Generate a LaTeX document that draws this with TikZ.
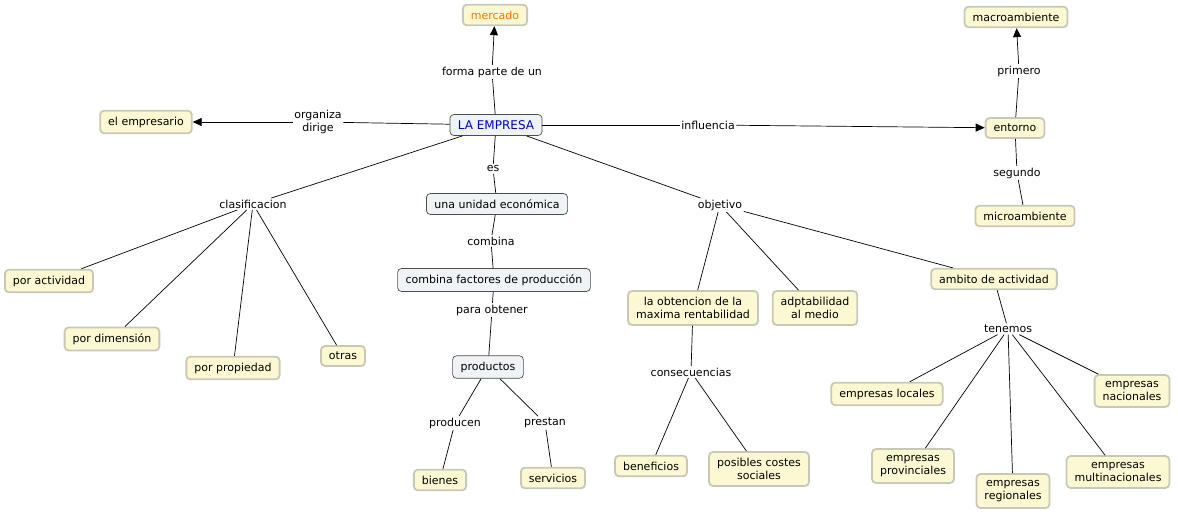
\documentclass[tikz,border=0pt]{standalone}
\usepackage{fontspec}
\setmainfont{DejaVu Sans}
\usetikzlibrary{arrows.meta}
\definecolor{cy}{HTML}{FCF9D2}
\definecolor{cb}{HTML}{EEF3F6}
\definecolor{cd}{HTML}{C8C8B8}
\begin{document}
\begin{tikzpicture}[x=1pt,y=-1pt,
  every node/.style={font=\fontsize{11}{13.5}\selectfont, align=center},
  c/.style={draw=cd, line width=1.8pt, fill=cy, rounded corners=4pt, inner xsep=8pt, inner ysep=6pt},
  b/.style={c, fill=cb, draw=black!70, line width=0.7pt},
  l/.style={fill=white, inner sep=1.5pt},
  e/.style={draw, line width=0.7pt},
  a/.style={e, -{Triangle[length=9pt,width=8pt]}}]
\useasboundingbox (0,0) rectangle (1178,518);
% concepts
\node[c, text=orange!90!red] (mer) at (495,15) {mercado};
\node[c] (mac) at (1016,17) {macroambiente};
\node[c] (emp) at (146,122) {el empresario};
\node[b, text=blue!80!black, font=\fontsize{12}{14}\selectfont] (LE) at (496,125) {LA EMPRESA};
\node[c] (ent) at (1015,128) {entorno};
\node[c] (mic) at (1025,216) {microambiente};
\node[b] (uni) at (497,204) {una unidad económica};
\node[b] (cfp) at (494,280) {combina factores de producción};
\node[b] (pro) at (488,367) {productos};
\node[c] (pac) at (49,281) {por actividad};
\node[c] (pdi) at (112,339) {por dimensión};
\node[c] (ppr) at (233,368) {por propiedad};
\node[c] (otr) at (343,356) {otras};
\node[c] (obt) at (693,308) {la obtencion de la\\maxima rentabilidad};
\node[c] (adp) at (815,308) {adptabilidad\\al medio};
\node[c] (amb) at (994,279) {ambito de actividad};
\node[c] (ben) at (651,466) {beneficios};
\node[c] (pcs) at (759,469) {posibles costes\\sociales};
\node[c] (bie) at (440,480) {bienes};
\node[c] (ser) at (553,478) {servicios};
\node[c] (elo) at (887,394) {empresas locales};
\node[c] (ena) at (1132,391) {empresas\\nacionales};
\node[c] (epr) at (913,466) {empresas\\provinciales};
\node[c] (ere) at (1013,491) {empresas\\regionales};
\node[c] (emu) at (1118,472) {empresas\\multinacionales};
% labels
\node[l] (lfp) at (492,72) {forma parte de un};
\node[l] (lor) at (318,122) {organiza\\dirige};
\node[l] (lin) at (708,125) {influencia};
\node[l] (lpr) at (1019,71) {primero};
\node[l] (lse) at (1017,173) {segundo};
\node[l] (lcl) at (253,204) {clasificacion};
\node[l] (les) at (493,169) {es};
\node[l] (lob) at (720,205) {objetivo};
\node[l] (lco) at (491,241) {combina};
\node[l] (lpo) at (492,310) {para obtener};
\node[l] (lcs) at (691,372) {consecuencias};
\node[l] (lte) at (1008,329) {tenemos};
\node[l] (lpd) at (455,423) {producen};
\node[l] (lps) at (545,423) {prestan};
% connectors
\draw[e] (LE) -- (lfp); \draw[a] (lfp) -- (mer);
\draw[e] (LE) -- (lor); \draw[a] (lor) -- (emp);
\draw[e] (LE) -- (lin); \draw[a] (lin) -- (ent);
\draw[e] (ent) -- (lpr); \draw[a] (lpr) -- (mac);
\draw[e] (ent) -- (lse); \draw[e] (lse) -- (mic);
\draw[e] (LE) -- (lcl);
\foreach \t in {pac,pdi,ppr,otr} \draw[e] (lcl) -- (\t);
\draw[e] (LE) -- (les); \draw[e] (les) -- (uni);
\draw[e] (uni) -- (lco); \draw[e] (lco) -- (cfp);
\draw[e] (cfp) -- (lpo); \draw[e] (lpo) -- (pro);
\draw[e] (pro) -- (lpd); \draw[e] (lpd) -- (bie);
\draw[e] (pro) -- (lps); \draw[e] (lps) -- (ser);
\draw[e] (LE) -- (lob);
\foreach \t in {obt,adp,amb} \draw[e] (lob) -- (\t);
\draw[e] (obt) -- (lcs); \draw[e] (lcs) -- (ben); \draw[e] (lcs) -- (pcs);
\draw[e] (amb) -- (lte);
\foreach \t in {elo,ena,epr,ere,emu} \draw[e] (lte) -- (\t);
\end{tikzpicture}
\end{document}
